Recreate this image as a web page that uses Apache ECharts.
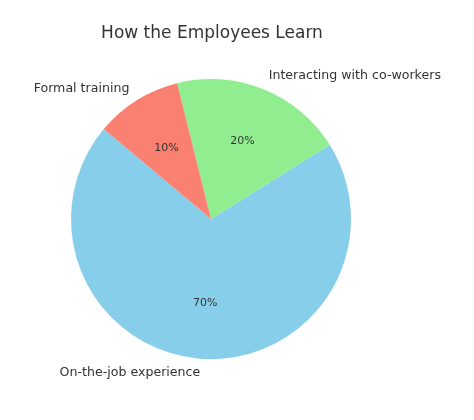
<!DOCTYPE html>
<html>
<head>
<meta charset="utf-8">
<script src="https://cdn.jsdelivr.net/npm/echarts@6/dist/echarts.min.js"></script>
<style>html,body{margin:0;padding:0;background:#fff;}#c{width:474px;height:420px;}</style>
</head>
<body>
<div id="c"></div>
<script>
const categories = ['On-the-job experience', 'Interacting with co-workers', 'Formal training'];
const values = [70, 20, 10];
const colors = ['#87CEEB', '#90EE90', '#FA8072'];
const titleText = 'How the Employees Learn';

const chart = echarts.init(document.getElementById('c'), null, {renderer: 'canvas'});
const data = categories.map((n, i) => ({name: n, value: values[i], itemStyle: {color: colors[i]}}));
const font = 'DejaVu Sans';
chart.setOption({
  animation: false,
  backgroundColor: '#ffffff',
  title: {
    text: titleText, left: 207, top: 20, textAlign: 'center',
    textStyle: {fontFamily: font, fontSize: 17, fontWeight: 'normal', color: '#333333'}
  },
  series: [
    {
      type: 'pie', center: [211, 219], radius: [0, 140],
      startAngle: 140, clockwise: false, avoidLabelOverlap: false,
      silent: true,
      data: data,
      label: {show: true, position: 'outside', formatter: '{b}', fontFamily: font, fontSize: 12.6, color: '#333333', distanceToLabelLine: 0},
      labelLine: {show: false, length: 14, length2: 0}
    },
    {
      type: 'pie', center: [211, 219], radius: [0, 162],
      startAngle: 140, clockwise: false, silent: true,
      data: data.map(d => ({name: d.name, value: d.value, itemStyle: {color: 'rgba(0,0,0,0)'}})),
      label: {show: true, position: 'inside', formatter: '{c}%', fontFamily: font, fontSize: 11, color: '#333333'},
      labelLine: {show: false}
    }
  ]
});
</script>
</body>
</html>
